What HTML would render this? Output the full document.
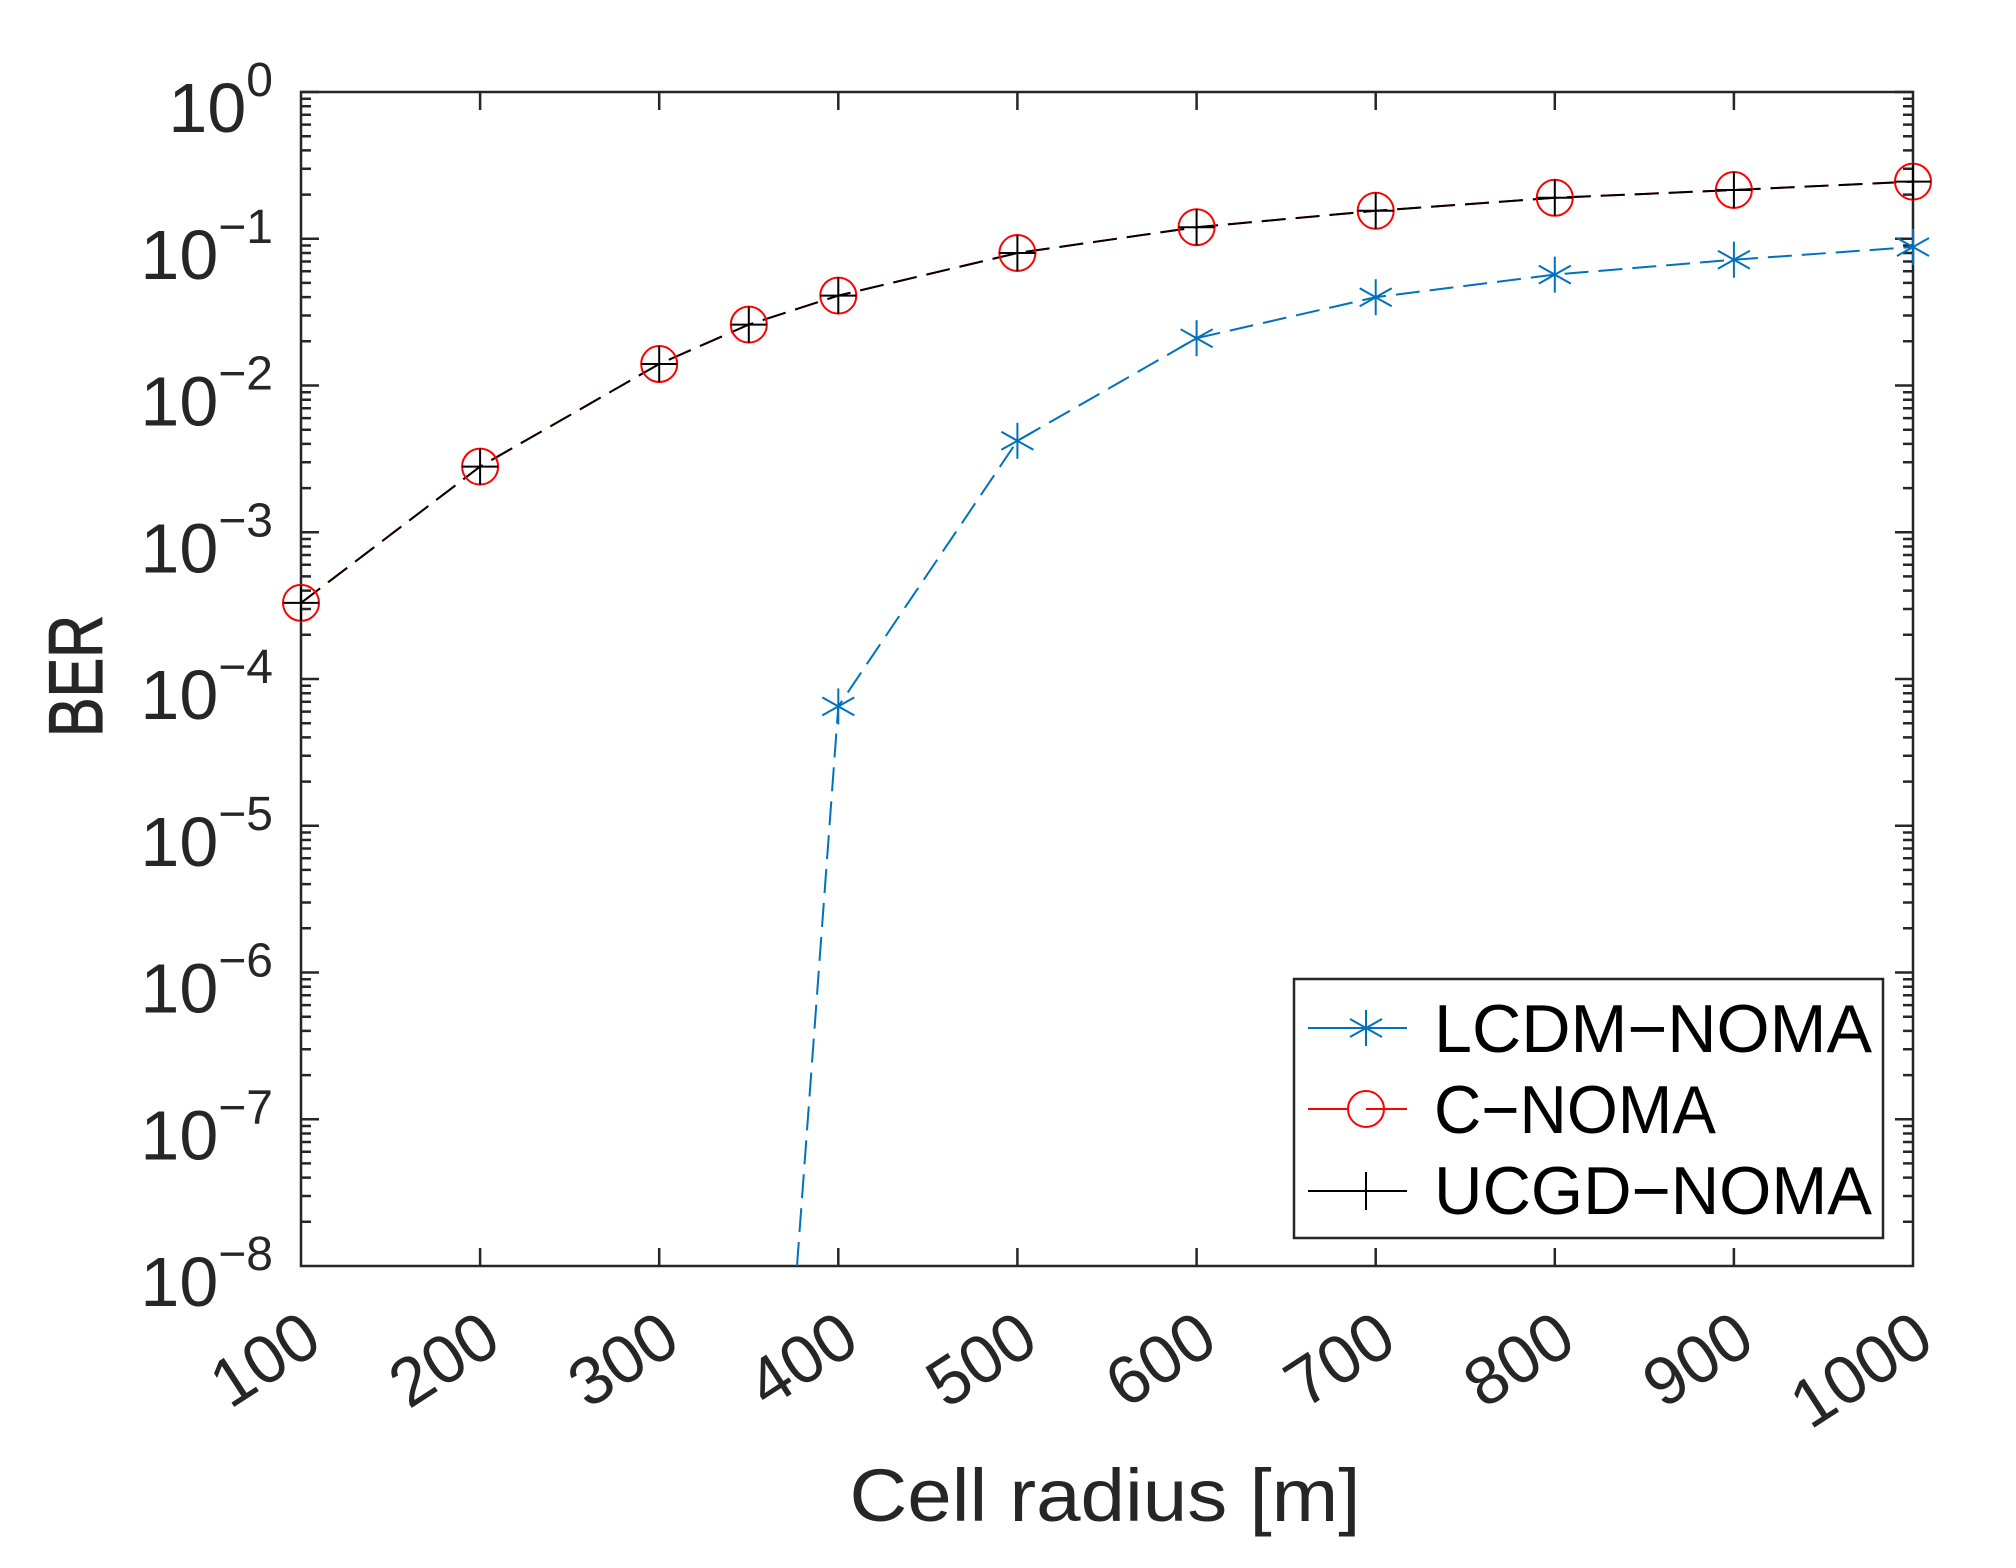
<!DOCTYPE html>
<html><head><meta charset="utf-8"><style>
html,body{margin:0;padding:0;background:#fff;}
svg{display:block;}
text{font-family:"Liberation Sans",sans-serif;fill:#262626;}
</style></head><body>
<svg width="2016" height="1568" viewBox="0 0 2016 1568" xmlns="http://www.w3.org/2000/svg" xmlns:xlink="http://www.w3.org/1999/xlink">
<defs>
<g id="ast" stroke="#0072BD" stroke-width="2"><line x1="0" y1="-18" x2="0" y2="18"/><line x1="-16" y1="-9" x2="16" y2="9"/><line x1="-16" y1="9" x2="16" y2="-9"/></g>
<circle id="cir" r="18" fill="none" stroke="#f00" stroke-width="2"/>
<path id="pls" d="M-18 0h36M0 -18v36" stroke="#000" stroke-width="2"/>
</defs>
<rect width="2016" height="1568" fill="#fff"/>
<g stroke="#262626" stroke-width="2.5" fill="none">
<rect x="301" y="92" width="1612" height="1174"/>
<path id="tk" d="M301 92h18M1913 92h-18M301 238.75h18M1913 238.75h-18M301 385.5h18M1913 385.5h-18M301 532.25h18M1913 532.25h-18M301 679h18M1913 679h-18M301 825.75h18M1913 825.75h-18M301 972.5h18M1913 972.5h-18M301 1119.25h18M1913 1119.25h-18M480.1 1266v-18M480.1 92v18M659.2 1266v-18M659.2 92v18M838.3 1266v-18M838.3 92v18M1017.4 1266v-18M1017.4 92v18M1196.6 1266v-18M1196.6 92v18M1375.7 1266v-18M1375.7 92v18M1554.8 1266v-18M1554.8 92v18M1733.9 1266v-18M1733.9 92v18"/>
</g>
<script>
(function(){
var L=301,R=1913,T=92,D=146.75,d=document.getElementById("tk").getAttribute("d");
for(var k=0;k<8;k++)for(var m=2;m<=9;m++){var yy=(T+(k+1-Math.log10(m))*D).toFixed(1);d+="M"+L+" "+yy+"h10M"+R+" "+yy+"h-10";}
document.getElementById("tk").setAttribute("d",d);
})();
</script>
<g font-size="70" text-anchor="end">
<text x="273" y="132">10<tspan font-size="48" dy="-36">0</tspan></text>
<text x="273" y="278.75">10<tspan font-size="48" dy="-36">−1</tspan></text>
<text x="273" y="425.5">10<tspan font-size="48" dy="-36">−2</tspan></text>
<text x="273" y="572.25">10<tspan font-size="48" dy="-36">−3</tspan></text>
<text x="273" y="719">10<tspan font-size="48" dy="-36">−4</tspan></text>
<text x="273" y="865.75">10<tspan font-size="48" dy="-36">−5</tspan></text>
<text x="273" y="1012.5">10<tspan font-size="48" dy="-36">−6</tspan></text>
<text x="273" y="1159.25">10<tspan font-size="48" dy="-36">−7</tspan></text>
<text x="273" y="1306">10<tspan font-size="48" dy="-36">−8</tspan></text>
</g>
<g font-size="68" text-anchor="end">
<text x="325" y="1348" transform="rotate(-33 325 1348)">100</text>
<text x="504.1" y="1348" transform="rotate(-33 504.1 1348)">200</text>
<text x="683.2" y="1348" transform="rotate(-33 683.2 1348)">300</text>
<text x="862.3" y="1348" transform="rotate(-33 862.3 1348)">400</text>
<text x="1041.4" y="1348" transform="rotate(-33 1041.4 1348)">500</text>
<text x="1220.6" y="1348" transform="rotate(-33 1220.6 1348)">600</text>
<text x="1399.7" y="1348" transform="rotate(-33 1399.7 1348)">700</text>
<text x="1578.8" y="1348" transform="rotate(-33 1578.8 1348)">800</text>
<text x="1757.9" y="1348" transform="rotate(-33 1757.9 1348)">900</text>
<text x="1937" y="1348" transform="rotate(-33 1937 1348)">1000</text>
</g>
<path d="M797 1266L838.3 706.4L1017.4 440.8L1196.6 338.2L1375.7 297.2L1554.8 274.6L1733.9 259.7L1913 247" fill="none" stroke="#0072BD" stroke-width="2" stroke-dasharray="24 10"/>
<use xlink:href="#ast" href="#ast" x="838.3" y="706.4"/>
<use xlink:href="#ast" href="#ast" x="1017.4" y="440.8"/>
<use xlink:href="#ast" href="#ast" x="1196.6" y="338.2"/>
<use xlink:href="#ast" href="#ast" x="1375.7" y="297.2"/>
<use xlink:href="#ast" href="#ast" x="1554.8" y="274.6"/>
<use xlink:href="#ast" href="#ast" x="1733.9" y="259.7"/>
<use xlink:href="#ast" href="#ast" x="1913" y="247"/>
<path d="M301 602.9L480.1 466.6L659.2 364L748.8 324.6L838.3 295.6L1017.4 253L1196.6 227.2L1375.7 210.8L1554.8 197.8L1733.9 190L1913 181.6" fill="none" stroke="#f00" stroke-width="2" stroke-dasharray="24 10"/>
<path d="M301 602.9L480.1 466.6L659.2 364L748.8 324.6L838.3 295.6L1017.4 253L1196.6 227.2L1375.7 210.8L1554.8 197.8L1733.9 190L1913 181.6" fill="none" stroke="#000" stroke-width="2" stroke-dasharray="24 10"/>
<g>
<use xlink:href="#cir" href="#cir" x="301" y="602.9"/><use xlink:href="#pls" href="#pls" x="301" y="602.9"/>
<use xlink:href="#cir" href="#cir" x="480.1" y="466.6"/><use xlink:href="#pls" href="#pls" x="480.1" y="466.6"/>
<use xlink:href="#cir" href="#cir" x="659.2" y="364"/><use xlink:href="#pls" href="#pls" x="659.2" y="364"/>
<use xlink:href="#cir" href="#cir" x="748.8" y="324.6"/><use xlink:href="#pls" href="#pls" x="748.8" y="324.6"/>
<use xlink:href="#cir" href="#cir" x="838.3" y="295.6"/><use xlink:href="#pls" href="#pls" x="838.3" y="295.6"/>
<use xlink:href="#cir" href="#cir" x="1017.4" y="253"/><use xlink:href="#pls" href="#pls" x="1017.4" y="253"/>
<use xlink:href="#cir" href="#cir" x="1196.6" y="227.2"/><use xlink:href="#pls" href="#pls" x="1196.6" y="227.2"/>
<use xlink:href="#cir" href="#cir" x="1375.7" y="210.8"/><use xlink:href="#pls" href="#pls" x="1375.7" y="210.8"/>
<use xlink:href="#cir" href="#cir" x="1554.8" y="197.8"/><use xlink:href="#pls" href="#pls" x="1554.8" y="197.8"/>
<use xlink:href="#cir" href="#cir" x="1733.9" y="190"/><use xlink:href="#pls" href="#pls" x="1733.9" y="190"/>
<use xlink:href="#cir" href="#cir" x="1913" y="181.6"/><use xlink:href="#pls" href="#pls" x="1913" y="181.6"/>
</g>
<text x="102" y="676" font-size="76" text-anchor="middle" transform="rotate(-90 102 676)" stroke="#262626" stroke-width="1.2" textLength="122" lengthAdjust="spacingAndGlyphs">BER</text>
<text x="1105" y="1521" font-size="74" text-anchor="middle" textLength="511" lengthAdjust="spacingAndGlyphs">Cell radius [m]</text>
<g>
<rect x="1294" y="979" width="589" height="259" fill="#fff" stroke="#262626" stroke-width="2.5"/>
<line x1="1308" y1="1028" x2="1407" y2="1028" stroke="#0072BD" stroke-width="2"/>
<use xlink:href="#ast" href="#ast" x="1366" y="1028"/>
<line x1="1308" y1="1109" x2="1407" y2="1109" stroke="#f00" stroke-width="2"/>
<circle cx="1366" cy="1109" r="18" fill="#fff" stroke="#f00" stroke-width="2"/>
<line x1="1366" y1="1109" x2="1407" y2="1109" stroke="#f00" stroke-width="2"/>
<line x1="1308" y1="1191" x2="1407" y2="1191" stroke="#000" stroke-width="2"/>
<line x1="1366" y1="1172" x2="1366" y2="1210" stroke="#000" stroke-width="2"/>
<text x="1434" y="1052" font-size="68" style="fill:#000" textLength="438" lengthAdjust="spacingAndGlyphs">LCDM−NOMA</text>
<text x="1434" y="1133" font-size="68" style="fill:#000" textLength="282" lengthAdjust="spacingAndGlyphs">C−NOMA</text>
<text x="1434" y="1214" font-size="68" style="fill:#000" textLength="438" lengthAdjust="spacingAndGlyphs">UCGD−NOMA</text>
</g>
</svg>
</body></html>
